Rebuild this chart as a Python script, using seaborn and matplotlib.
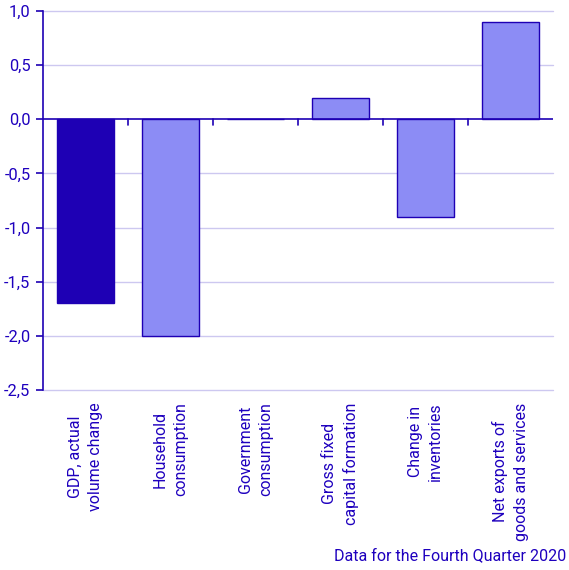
import numpy as np
import pandas as pd
import seaborn as sns
import matplotlib.pyplot as plt

categories = ['GDP, actual\nvolume change', 'Household\nconsumption', 'Government\nconsumption',
              'Gross fixed\ncapital formation', 'Change in\ninventories', 'Net exports of\ngoods and services']
values = [-1.7, -2.0, 0.0, 0.2, -0.9, 0.9]
bar_colors = ['#1e00b4', '#8c8cf5', '#8c8cf5', '#8c8cf5', '#8c8cf5', '#8c8cf5']
y_ticks = [1.0, 0.5, 0.0, -0.5, -1.0, -1.5, -2.0, -2.5]
footer = 'Data for the Fourth Quarter 2020'

navy = '#1e00b4'
text_col = '#1e00be'
grid_col = '#cdc8f0'

sns.set_theme(style='white')
plt.rcParams['font.family'] = ['Roboto', 'DejaVu Sans']

df = pd.DataFrame({'cat': categories, 'val': values})

fig = plt.figure(figsize=(5.69, 5.70), dpi=100)
ax = fig.add_axes([43 / 569, 1 - 390 / 570, 510 / 569, 379 / 570])

sns.barplot(data=df, x='cat', y='val', hue='cat', palette=bar_colors, legend=False,
            saturation=1, width=0.68, edgecolor=navy, linewidth=1.0, ax=ax, zorder=3)

ax.set_ylim(-2.5, 1.0)
ax.set_xlim(-0.5, len(categories) - 0.5)
ax.set_yticks(y_ticks)
ax.set_yticklabels([f'{t:.1f}'.replace('.', ',') for t in y_ticks], fontsize=11.8, color=text_col)
for t in y_ticks:
    if t != 0.0:
        ax.axhline(t, color=grid_col, linewidth=1.0, zorder=1, clip_on=False)

for s in ['top', 'right', 'bottom']:
    ax.spines[s].set_visible(False)
ax.spines['left'].set_color(navy)
ax.spines['left'].set_linewidth(1.2)
ax.axhline(0, color=navy, linewidth=1.2, zorder=4)

# x tick marks between categories on the zero line
for b in np.arange(0.5, len(categories) - 0.5, 1.0):
    ax.plot([b, b], [0, -0.055], color=navy, linewidth=1.2, zorder=4, clip_on=False)

ax.tick_params(axis='y', which='both', left=True, length=5, width=1.2, color=navy, pad=4)
ax.tick_params(axis='x', bottom=False, pad=3)
ax.set_xticks(range(len(categories)))
ax.set_xticklabels(categories, rotation=90, ha='center', va='top', multialignment='center',
                   linespacing=1.45, fontsize=11.5, color=text_col)
ax.set_xlabel('')
ax.set_ylabel('')

fig.text(566 / 569, 1 - 556 / 570, footer, ha='right', va='center', fontsize=11.5, color=text_col)

fig.savefig('out.png', dpi=100)
